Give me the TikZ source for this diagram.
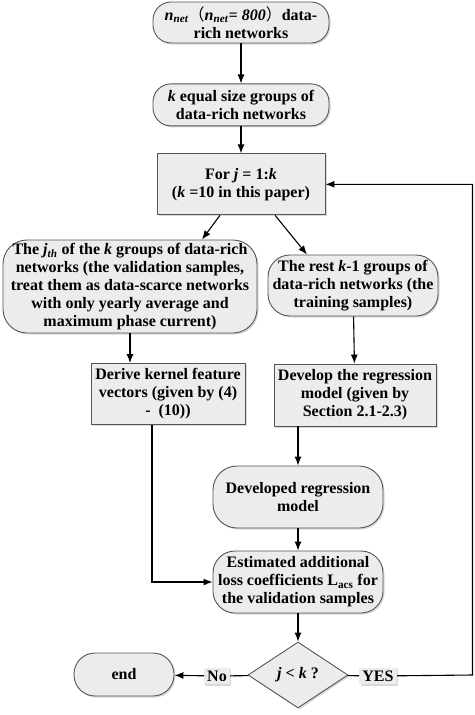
\documentclass[tikz,border=0pt]{standalone}
\usepackage{fontspec}
\setmainfont{Liberation Serif}
\newfontfamily\cjk{Noto Sans CJK SC}
\usepackage{xcolor}
\usepackage{tikz}
\usetikzlibrary{positioning,arrows.meta,shapes.geometric,shadows}
\definecolor{boxgray}{RGB}{236,236,236}
\definecolor{edgegray}{RGB}{85,85,85}

\begin{document}
\begin{tikzpicture}[
x=1pt,y=1pt,
font=\bfseries\fontsize{16}{18}\selectfont,
base/.style={draw=edgegray,line width=0.9pt,fill=boxgray,align=center,inner sep=1pt,
  drop shadow={shadow xshift=1.5pt,shadow yshift=-1.5pt,opacity=0.3}},
rbox/.style={base,rounded corners=18pt},
sbox/.style={base},
cond/.style={base,diamond,inner sep=0pt,minimum width=100pt,minimum height=66pt},
tag/.style={fill=boxgray,inner sep=3pt,
  drop shadow={shadow xshift=1.2pt,shadow yshift=-1.2pt,opacity=0.3}},
line/.style={line width=1.1pt},
>={Latex[length=9pt,width=7pt]}
]
\useasboundingbox (0,0) rectangle (474,-715);

\node[rbox,minimum width=176pt,minimum height=41pt] (nets) at (241,-22.5)
  {\textit{n}\textsubscript{\textit{net}}{\mdseries\cjk （}\textit{n}\textsubscript{\textit{net}}\textit{= 800}{\mdseries\cjk ）}data-\\rich networks};
\node[rbox,minimum width=176pt,minimum height=42pt,below=40pt of nets] (groups)
  {\textit{k} equal size groups of\\data-rich networks};
\node[sbox,minimum width=168pt,minimum height=61pt,below=27pt of groups] (loop)
  {For \textit{j} = 1:\textit{k}\\(\textit{k} =10 in this paper)};
\node[rbox,rounded corners=24pt,minimum width=254pt,minimum height=93pt] (valid) at (130,-286.5)
  {The \textit{j}\textsubscript{\textit{th}} of the \textit{k} groups of data-rich\\networks (the validation samples,\\treat them as data-scarce networks\\with only yearly average and\\maximum phase current)};
\node[rbox,rounded corners=22pt,minimum width=170pt,minimum height=61pt] (train) at (353,-285.5)
  {The rest \textit{k}-1 groups of\\data-rich networks (the\\training samples)};
\node[sbox,minimum width=154pt,minimum height=61pt] (kernel) at (168,-394)
  {Derive kernel feature\\vectors (given by (4)\\-~ (10))};
\node[sbox,minimum width=162pt,minimum height=62pt] (develop) at (355,-395)
  {Develop the regression\\model (given by\\Section 2.1-2.3)};
\node[rbox,rounded corners=24pt,minimum width=170pt,minimum height=62pt] (model) at (298,-497)
  {Developed regression\\model};
\node[rbox,rounded corners=22pt,minimum width=170pt,minimum height=62pt] (estim) at (298,-582)
  {Estimated additional\\loss coefficients L\textsubscript{acs} for\\the validation samples};
\node[cond] (check) at (298,-675) {\textit{j} < \textit{k} ?};
\node[rbox,rounded corners=21pt,minimum width=100pt,minimum height=43pt] (stop) at (124,-674.5) {end};
\node[tag] (no) at (217,-676) {No};
\node[tag] (yes) at (378,-676) {YES};
\coordinate (back) at (472.5,-675);

\draw[line,->] (nets) -- (groups);
\draw[line,->] (groups) -- (loop);
\draw[line,->] ([xshift=-21pt]loop.south) -- ([xshift=72pt]valid.north);
\draw[line,->] ([xshift=34pt]loop.south) -- ([xshift=-46pt]train.north);
\draw[line,->] (valid) -- (valid.south |- kernel.north);
\draw[line,->] (train) -- (develop);
\draw[line,->] (model.north |- develop.south) -- (model);
\draw[line,->] (model) -- (estim);
\draw[line,->] ([xshift=-16pt]kernel.south) |- (estim);
\draw[line,->] (estim) -- (check);
\draw[line] (check) -- (no);
\draw[line,->] (no) -- (stop);
\draw[line] (check) -- (yes);
\draw[line,->] (yes) -- (back) |- (loop);
\end{tikzpicture}
\end{document}
